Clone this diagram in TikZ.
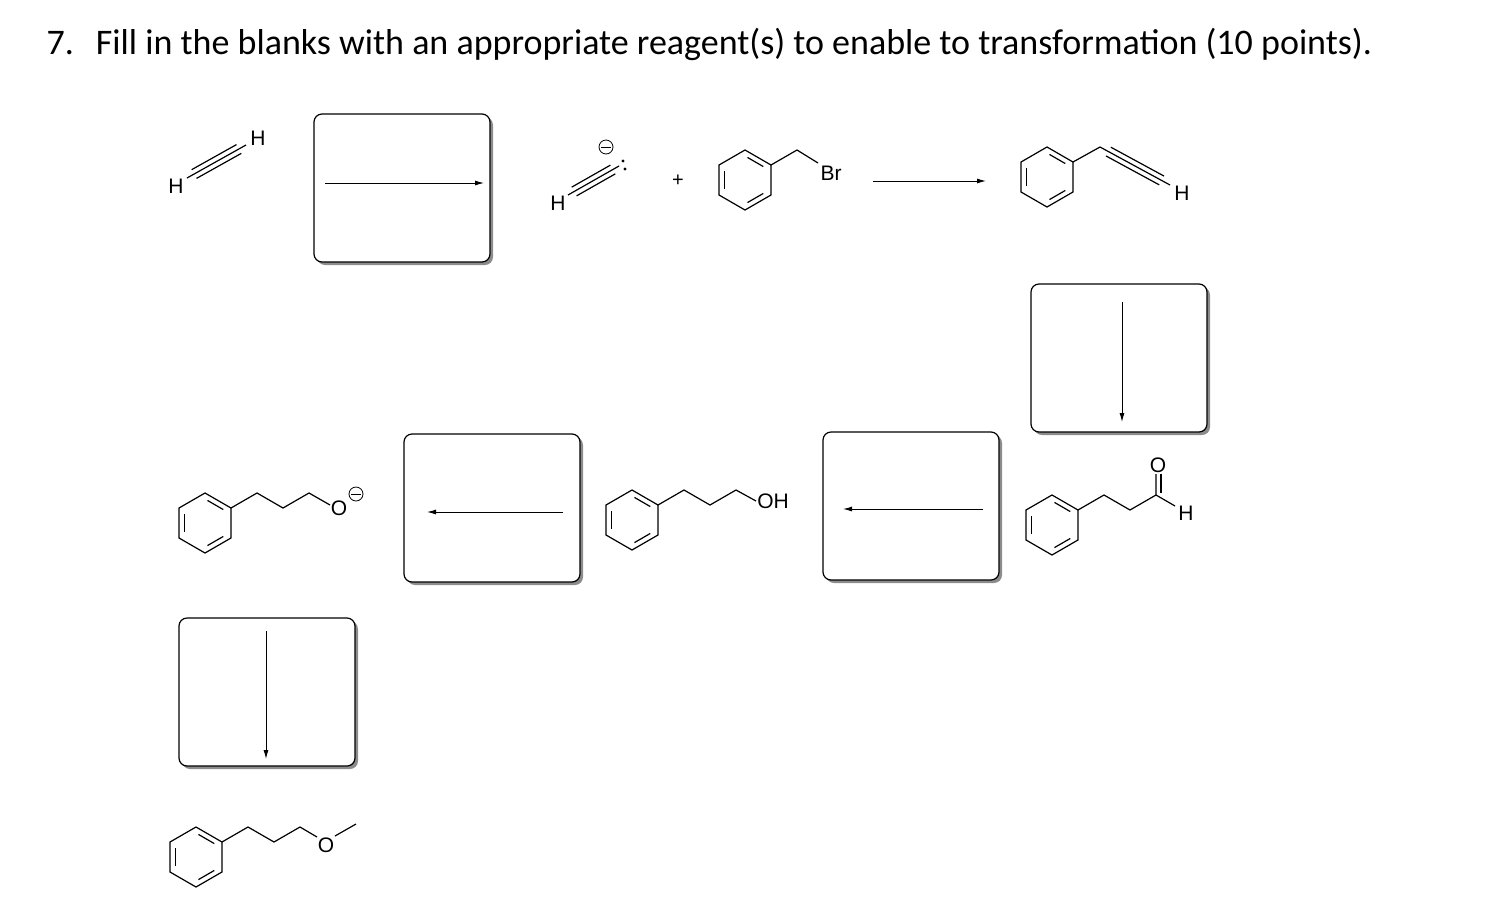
\documentclass[tikz,border=0pt]{standalone}
\usepackage{fontspec}
\setmainfont{Liberation Sans}
\newfontfamily\titlefont{Carlito}
\usetikzlibrary{calc,shadows,arrows.meta}
\newcommand\benzring[2]{\begin{scope}[shift={(#1,#2)}]
 \draw (-90:30)--(-30:30)--(30:30)--(90:30)--(150:30)--(210:30)--cycle;
 \foreach \a/\b in {-90/-30,30/90,150/210}{\draw ($(\a:24)!0.12!(\b:24)$) -- ($(\a:24)!0.88!(\b:24)$);}
\end{scope}}
\newcommand\tripbond[2]{\draw (#1)--(#2);
 \draw ($(#1)!0.12!(#2)!5pt!90:(#2)$)--($(#2)!0.12!(#1)!5pt!-90:(#1)$);
 \draw ($(#1)!0.12!(#2)!5pt!-90:(#2)$)--($(#2)!0.12!(#1)!5pt!90:(#1)$);}
\tikzset{
 blank/.style={draw,rounded corners=8pt,line width=1.2pt,fill=white,
   drop shadow={shadow xshift=3pt,shadow yshift=-3pt,fill=black!45,opacity=1},
   minimum width=176pt,minimum height=148pt,inner sep=0pt},
 rxn/.style={-{Latex[length=9pt,width=5pt]},line width=1pt},
 atom/.style={inner sep=0.5pt,font=\fontsize{21}{21}\selectfont},
 chg/.style={circle,draw,inner sep=0pt,minimum size=14pt,line width=0.8pt},
}
\begin{document}
\begin{tikzpicture}[x=1pt,y=-1pt,line width=1.2pt]
\useasboundingbox (0,0) rectangle (1500,914);
\node[anchor=base west,inner sep=0pt,font=\titlefont\fontsize{36}{36}\selectfont] (title) at (46,54)
 {7.\hspace{22pt}Fill in the blanks with an appropriate reagent(s) to enable to transformation (10 points).};
% acetylene
\node[atom] (h1) at (176,186) {H};
\node[atom] (h2) at (258,138) {H};
\coordinate (a1) at (187,178); \coordinate (a2) at (246,145);
\tripbond{a1}{a2}
% box 1
\node[blank] (b1) at (402,188) {};
\coordinate (b1s) at (325,183); \coordinate (b1e) at (484,183);
\draw[rxn] (b1s)--(b1e);
% acetylide
\node[atom] (h3) at (558,203) {H};
\coordinate (c1) at (568,195); \coordinate (c2) at (619,166);
\tripbond{c1}{c2}
\fill (623,161) circle (1.6pt) (625,169) circle (1.6pt);
\node[chg] (m1) at (606,147) {}; \draw[line width=0.8pt] (601,147)--(611,147);
\node[font=\fontsize{20}{20}\selectfont] (plus) at (678,181) {+};
% benzyl bromide
\benzring{745}{180}
\coordinate (bb1) at (771,165); \coordinate (bb2) at (797,150);
\node[atom] (br) at (831,173) {Br};
\draw (bb1)--(bb2)--(818,163);
\coordinate (r1s) at (873,181); \coordinate (r1e) at (986,181);
\draw[rxn] (r1s)--(r1e);
% propargyl benzene
\benzring{1047}{177}
\coordinate (p1) at (1073,162); \coordinate (p2) at (1100,147); \coordinate (p3) at (1170,185);
\draw (p1)--(p2);
\tripbond{p2}{p3}
\node[atom] (h4) at (1182,193) {H};
% box 2
\node[blank] (b2) at (1119,358) {};
\coordinate (b2s) at (1122,302); \coordinate (b2e) at (1122,422);
\draw[rxn] (b2s)--(b2e);
% aldehyde
\benzring{1052}{525}
\coordinate (d1) at (1078,510); \coordinate (d2) at (1104,495); \coordinate (d3) at (1130,510); \coordinate (d4) at (1156,495);
\coordinate (d5) at (1156,474); \coordinate (d6) at (1175,506);
\draw (d1)--(d2)--(d3)--(d4)--(d5) (d4)--(d6);
\draw ($(d4)!0.1!(d5)!5pt!-90:(d5)$)--($(d5)!0.0!(d4)!5pt!90:(d4)$);
\node[atom] (o1) at (1158,465) {O};
\node[atom] (h5) at (1186,513) {H};
% box 3
\node[blank] (b3) at (911,506) {};
\coordinate (b3s) at (983,509); \coordinate (b3e) at (843,509);
\draw[rxn] (b3s)--(b3e);
% alcohol
\benzring{632}{520}
\draw (658,505)--(684,490)--(710,505)--(736,490)--(756,501);
\node[atom] (oh) at (773,501) {OH};
% box 4
\node[blank] (b4) at (492,508) {};
\coordinate (b4s) at (563,512); \coordinate (b4e) at (427,512);
\draw[rxn] (b4s)--(b4e);
% alkoxide
\benzring{205}{523}
\draw (231,508)--(257,493)--(283,508)--(309,493)--(330,505);
\node[atom] (o2) at (339,508) {O};
\node[chg] (m2) at (356,494) {}; \draw[line width=0.8pt] (351,494)--(361,494);
% box 5
\node[blank] (b5) at (267,692) {};
\coordinate (b5s) at (266,631); \coordinate (b5e) at (266,759);
\draw[rxn] (b5s)--(b5e);
% ether
\benzring{196}{857}
\draw (222,842)--(248,827)--(274,842)--(300,827)--(317,837) (335,836)--(356,824);
\node[atom] (o3) at (326,845) {O};
\end{tikzpicture}
\end{document}
